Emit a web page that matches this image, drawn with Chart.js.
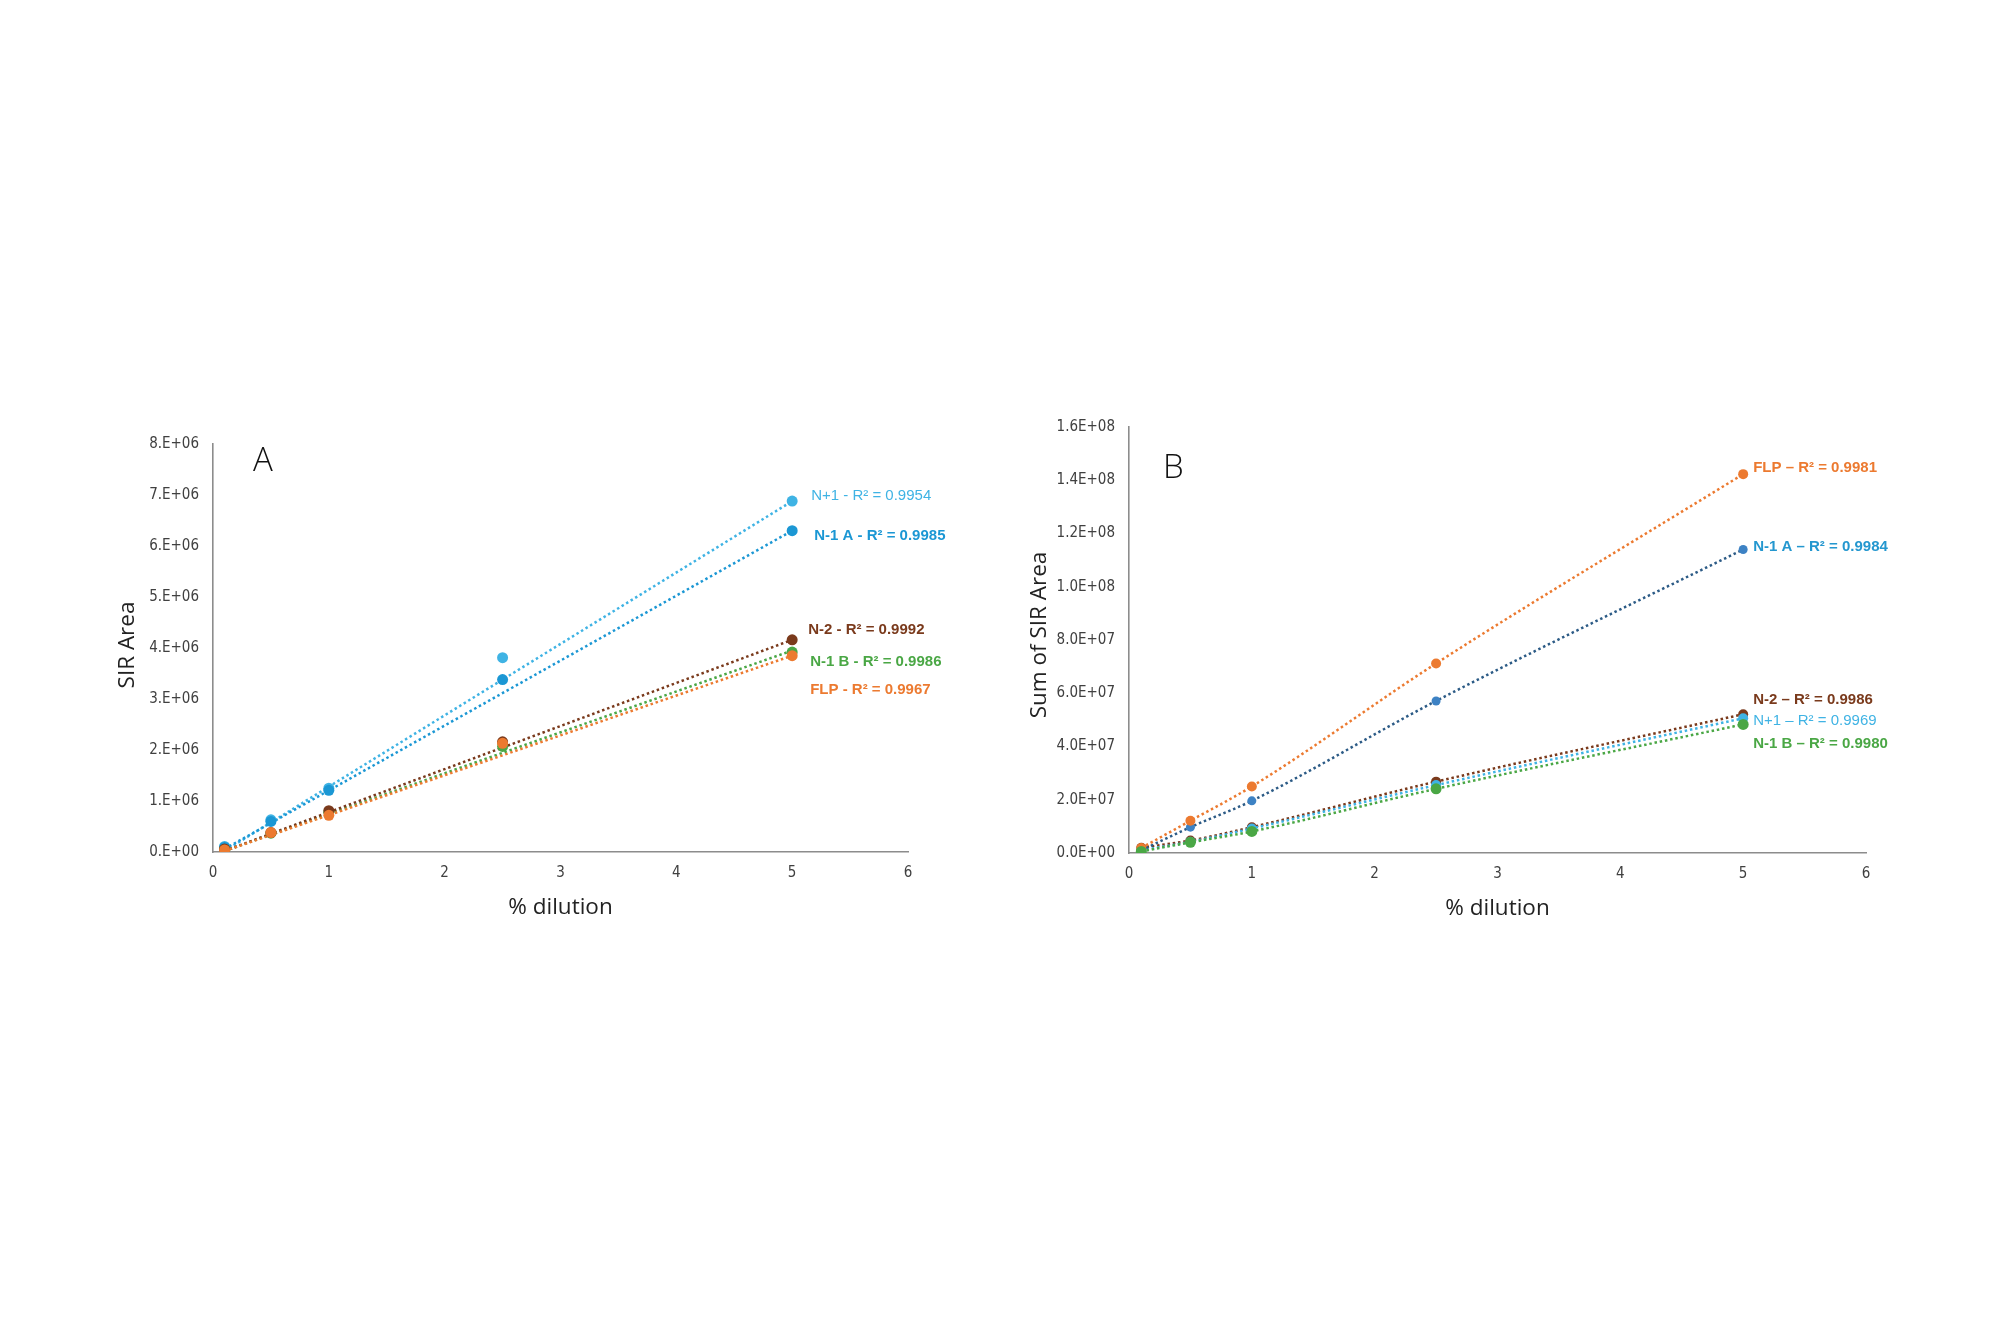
<!DOCTYPE html>
<html>
<head>
<meta charset="utf-8">
<script src="https://cdn.jsdelivr.net/npm/chart.js@4.4.1/dist/chart.umd.min.js"></script>
<style>
  html, body { margin: 0; padding: 0; background: #ffffff; }
  body { width: 2000px; height: 1333px; position: relative; overflow: hidden; }
  .wrap { position: absolute; }
  #wa { left: 60px; top: 380px; width: 900px; height: 580px; }
  #wb { left: 990px; top: 380px; width: 940px; height: 580px; }
</style>
</head>
<body>
<div class="wrap" id="wa"><canvas id="ca" width="900" height="580"></canvas></div>
<div class="wrap" id="wb"><canvas id="cb" width="940" height="580"></canvas></div>
<script>
// ---------- DATA ----------
const dilution = [0.1, 0.5, 1, 2.5, 5];
const trendX = [0.1, 5];

// Panel A: SIR Area
const aN1  = [0.11e6, 0.63e6, 1.25e6, 3.81e6, 6.88e6];
const aN1A = [0.09e6, 0.60e6, 1.21e6, 3.38e6, 6.30e6];
const aN2  = [0.06e6, 0.38e6, 0.81e6, 2.16e6, 4.16e6];
const aN1B = [0.05e6, 0.37e6, 0.78e6, 2.07e6, 3.92e6];
const aFLP = [0.04e6, 0.38e6, 0.72e6, 2.13e6, 3.85e6];
// Panel A trendline ends (read at x = 0.1 and x = 5)
const aTrendN1  = [0.02e6, 6.88e6];
const aTrendN1A = [0.06e6, 6.30e6];
const aTrendN2  = [0.02e6, 4.16e6];
const aTrendN1B = [0.02e6, 3.95e6];
const aTrendFLP = [0.02e6, 3.85e6];
const aTickLabels = ['0.E+00','1.E+06','2.E+06','3.E+06','4.E+06','5.E+06','6.E+06','7.E+06','8.E+06'];

// Panel B: Sum of SIR Area
const bFLP = [0.19e7, 1.21e7, 2.50e7, 7.12e7, 14.23e7];
const bN1A = [0.10e7, 0.97e7, 1.96e7, 5.71e7, 11.40e7];
const bN2  = [0.20e7, 0.47e7, 0.97e7, 2.68e7, 5.21e7];
const bN1  = [0.10e7, 0.42e7, 0.92e7, 2.55e7, 5.06e7];
const bN1B = [0.06e7, 0.40e7, 0.81e7, 2.41e7, 4.83e7];
const bTickLabels = ['0.0E+00','2.0E+07','4.0E+07','6.0E+07','8.0E+07','1.0E+08','1.2E+08','1.4E+08','1.6E+08'];
const xTickLabels = ['0','1','2','3','4','5','6'];

// Labels (text, value used for vertical placement)
const aLabelText = ['N+1 - R² = 0.9954', 'N-1 A - R² = 0.9985', 'N-2 - R² = 0.9992', 'N-1 B - R² = 0.9986', 'FLP - R² = 0.9967'];
const aLabelY = [6.98e6, 6.20e6, 4.35e6, 3.73e6, 3.18e6];
const bLabelText = ['FLP – R² = 0.9981', 'N-1 A – R² = 0.9984', 'N-2 – R² = 0.9986', 'N+1 – R² = 0.9969', 'N-1 B – R² = 0.9980'];
const bLabelY = [14.47e7, 11.5e7, 5.75e7, 4.96e7, 4.10e7];

// ---------- STYLE ----------
const C = {
  n1: '#3fb3e4', n1a: '#1b97d4', n2: '#7a3a1c', n1b: '#4aa745', flp: '#ec7a30',
  n1aB: '#3d82c4', n1aBLine: '#2c5b86', n1aBLabel: '#2497cf'
};
const tickFont = { family: '"Liberation Sans Narrow", "DejaVu Sans Condensed", "Arial Narrow", sans-serif', size: 15 };
const axisColor = '#8c8c8c';

function pts(xs, ys) { return xs.map((x, i) => ({ x: x, y: ys[i] })); }

function pointSet(data, color, r) {
  return { data: pts(dilution, data), showLine: false, pointRadius: r, pointHoverRadius: r,
    backgroundColor: color, borderColor: color, borderWidth: 0 };
}
function lineSet(xs, data, color, width) {
  return { data: pts(xs, data), showLine: true, pointRadius: 0, borderColor: color,
    borderWidth: width || 2.5, borderDash: [2.5, 2.8], backgroundColor: color, fill: false };
}
function curveSet(data, color, lineColor, r) {
  return { data: pts(dilution, data), showLine: true, pointRadius: r, pointHoverRadius: r,
    backgroundColor: color, borderColor: lineColor, pointBorderColor: color, pointBorderWidth: 0,
    borderWidth: 2.5, borderDash: [2.5, 2.8], cubicInterpolationMode: 'monotone', fill: false };
}

function makeOptions(cfg) {
  return {
    responsive: false, animation: false,
    layout: { padding: { top: cfg.padTop, right: cfg.padRight, left: 0, bottom: 0 } },
    plugins: { legend: { display: false }, tooltip: { enabled: false } },
    scales: {
      x: { type: 'linear', min: 0, max: 6,
        afterFit: s => { s.height = cfg.xH; },
        grid: { display: false, drawTicks: false },
        border: { display: true, color: axisColor, width: 1.6 },
        ticks: { stepSize: 1, padding: 12, color: '#404040', font: tickFont,
          callback: v => xTickLabels[v] } },
      y: { type: 'linear', min: 0, max: cfg.yMax,
        afterFit: s => { s.width = cfg.yW; },
        grid: { display: false, drawTicks: false },
        border: { display: true, color: axisColor, width: 1.6 },
        ticks: { stepSize: cfg.yMax / 8, padding: 14, color: '#404040', font: tickFont,
          callback: (v, i) => cfg.tickLabels[i] } }
    }
  };
}

const annotatePlugin = {
  id: 'annot',
  afterDraw(chart, args, o) {
    const ctx = chart.ctx, xs = chart.scales.x, ys = chart.scales.y, ca = chart.chartArea;
    ctx.save();
    // panel letter
    ctx.fillStyle = '#111';
    ctx.font = '300 33px "Open Sans", sans-serif';
    ctx.textAlign = 'left'; ctx.textBaseline = 'middle';
    ctx.fillText(o.letter, ca.left + o.letterDx, ca.top + o.letterDy);
    // axis titles
    ctx.fillStyle = '#222';
    ctx.font = '22.5px "Open Sans", sans-serif';
    ctx.textAlign = 'center';
    ctx.fillText('% dilution', (ca.left + ca.right) / 2, ca.bottom + o.xTitleDy);
    ctx.save();
    ctx.translate(ca.left - o.yTitleDx, (ca.top + ca.bottom) / 2 + o.yTitleShift);
    ctx.rotate(-Math.PI / 2);
    ctx.fillText(o.yTitle, 0, 0);
    ctx.restore();
    // series labels
    ctx.textAlign = 'left';
    const x5 = xs.getPixelForValue(5);
    o.labels.forEach((t, i) => {
      ctx.fillStyle = o.colors[i];
      ctx.font = (o.weights[i]) + ' 15px "Liberation Sans", Arial, sans-serif';
      ctx.fillText(t, x5 + o.dx[i], ys.getPixelForValue(o.ys[i]));
    });
    ctx.restore();
  }
};

// Note: Chart.js paints dataset 0 last (on top).

// ---------- CHART A ----------
const optA = makeOptions({ padTop: 64, padRight: 52, xH: 108, yW: 153, yMax: 8e6, tickLabels: aTickLabels });
optA.plugins.annot = {
  letter: 'A', letterDx: 40, letterDy: 18, yTitle: 'SIR Area', yTitleDx: 85, yTitleShift: -3, xTitleDy: 56,
  labels: aLabelText, ys: aLabelY, dx: [19, 22, 16, 18, 18],
  colors: [C.n1, C.n1a, C.n2, C.n1b, C.flp],
  weights: ['normal', 'bold', 'bold', 'bold', 'bold']
};
new Chart(document.getElementById('ca'), {
  type: 'scatter',
  data: { datasets: [
    pointSet(aFLP, C.flp, 5.5),
    pointSet(aN2, C.n2, 5.5),
    pointSet(aN1B, C.n1b, 5.5),
    pointSet(aN1A, C.n1a, 5.5),
    pointSet(aN1, C.n1, 5.5),
    lineSet(trendX, aTrendFLP, C.flp),
    lineSet(trendX, aTrendN2, C.n2),
    lineSet(trendX, aTrendN1B, C.n1b),
    lineSet(trendX, aTrendN1A, C.n1a),
    lineSet(trendX, aTrendN1, C.n1)
  ] },
  options: optA,
  plugins: [annotatePlugin]
});

// ---------- CHART B ----------
const optB = makeOptions({ padTop: 47, padRight: 64, xH: 107, yW: 139, yMax: 1.6e8, tickLabels: bTickLabels });
optB.plugins.annot = {
  letter: 'B', letterDx: 34, letterDy: 42, yTitle: 'Sum of SIR Area', yTitleDx: 89, yTitleShift: -5, xTitleDy: 56,
  labels: bLabelText, ys: bLabelY, dx: [10, 10, 10, 10, 10],
  colors: [C.flp, C.n1aBLabel, C.n2, C.n1, C.n1b],
  weights: ['bold', 'bold', 'bold', 'normal', 'bold']
};
new Chart(document.getElementById('cb'), {
  type: 'scatter',
  data: { datasets: [
    curveSet(bN1B, C.n1b, C.n1b, 5.5),
    curveSet(bFLP, C.flp, C.flp, 5),
    curveSet(bN1A, C.n1aB, C.n1aBLine, 4.5),
    curveSet(bN1, C.n1, C.n1, 5),
    curveSet(bN2, C.n2, C.n2, 5)
  ] },
  options: optB,
  plugins: [annotatePlugin]
});
</script>
</body>
</html>
